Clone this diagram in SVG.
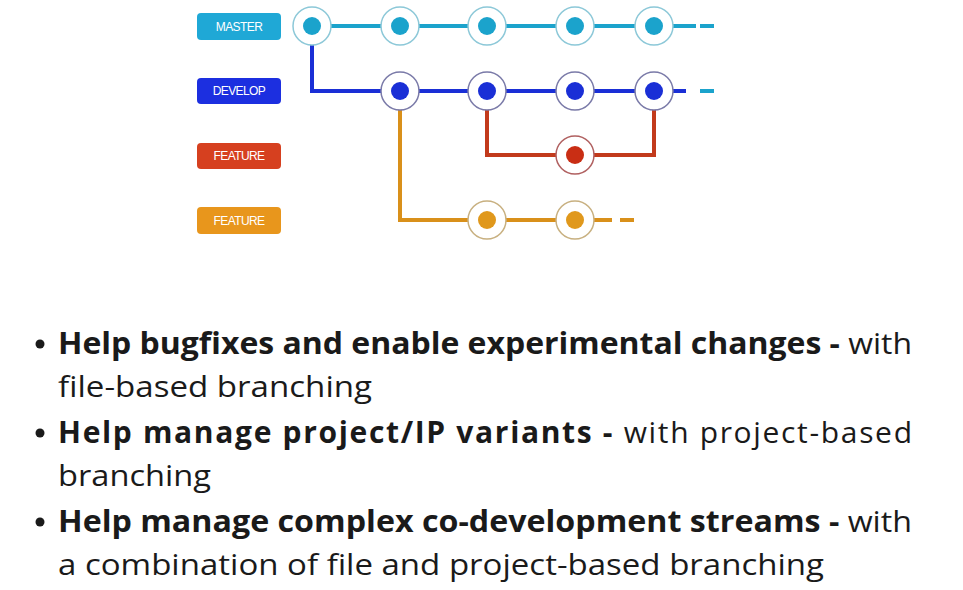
<svg xmlns="http://www.w3.org/2000/svg" width="963" height="590" viewBox="0 0 963 590">
<style>
.lbl{font-family:"Liberation Sans",Arial,sans-serif;font-size:12px;fill:#fff;text-anchor:middle;letter-spacing:-0.6px}
.ring{fill:#fff;stroke-width:1.5}
.t{font-family:"Open Sans",sans-serif;font-size:30px;fill:#1a1a1a}
.b{font-weight:bold}
.ln{fill:none;stroke-width:4}
</style>
<rect width="963" height="590" fill="#fff"/>
<g id="connectors">
<path class="ln" stroke="#1ba3cc" d="M312 26H696"/>
<path class="ln" stroke="#1ba3cc" d="M700 26h14"/>
<path class="ln" stroke="#1a2fd6" d="M312 26V91H686"/>
<path class="ln" stroke="#1ba3cc" d="M700 91h14"/>
<path class="ln" stroke="#c23a1c" d="M487 91V155H654V91"/>
<path class="ln" stroke="#d9901a" d="M400 91V220H612"/>
<path class="ln" stroke="#d9901a" d="M620 220h14"/>
</g>
<g id="label-master"><rect x="197" y="13" width="84" height="27" rx="4" fill="#1fa8d6"/><text class="lbl" x="239" y="31">MASTER</text></g>
<g id="label-develop"><rect x="197" y="78" width="84" height="26" rx="4" fill="#1c2fe0"/><text class="lbl" x="239" y="95">DEVELOP</text></g>
<g id="label-feature1"><rect x="197" y="143" width="84" height="26" rx="4" fill="#d6401f"/><text class="lbl" x="239" y="160">FEATURE</text></g>
<g id="label-feature2"><rect x="197" y="207" width="84" height="27" rx="4" fill="#e8961c"/><text class="lbl" x="239" y="225">FEATURE</text></g>
<g id="master-nodes" stroke="#8cc8d8">
<circle class="ring" cx="312" cy="26" r="19"/><circle cx="312" cy="26" r="9" fill="#1ba3cc" stroke="none"/>
<circle class="ring" cx="400" cy="26" r="19"/><circle cx="400" cy="26" r="9" fill="#1ba3cc" stroke="none"/>
<circle class="ring" cx="487" cy="26" r="19"/><circle cx="487" cy="26" r="9" fill="#1ba3cc" stroke="none"/>
<circle class="ring" cx="575" cy="26" r="19"/><circle cx="575" cy="26" r="9" fill="#1ba3cc" stroke="none"/>
<circle class="ring" cx="654" cy="26" r="19"/><circle cx="654" cy="26" r="9" fill="#1ba3cc" stroke="none"/>
</g>
<g id="develop-nodes" stroke="#7a7aa8">
<circle class="ring" cx="400" cy="91" r="19"/><circle cx="400" cy="91" r="9" fill="#1a2fd6" stroke="none"/>
<circle class="ring" cx="487" cy="91" r="19"/><circle cx="487" cy="91" r="9" fill="#1a2fd6" stroke="none"/>
<circle class="ring" cx="575" cy="91" r="19"/><circle cx="575" cy="91" r="9" fill="#1a2fd6" stroke="none"/>
<circle class="ring" cx="654" cy="91" r="19"/><circle cx="654" cy="91" r="9" fill="#1a2fd6" stroke="none"/>
</g>
<g id="feature1-node" stroke="#b06060">
<circle class="ring" cx="575" cy="155" r="19"/><circle cx="575" cy="155" r="9" fill="#c92e14" stroke="none"/>
</g>
<g id="feature2-nodes" stroke="#c8b080">
<circle class="ring" cx="487" cy="220" r="19"/><circle cx="487" cy="220" r="9" fill="#e0981c" stroke="none"/>
<circle class="ring" cx="575" cy="220" r="19"/><circle cx="575" cy="220" r="9" fill="#e0981c" stroke="none"/>
</g>
<g id="bullets">
<circle cx="40" cy="344" r="4.5" fill="#1a1a1a"/>
<circle cx="40" cy="433" r="4.5" fill="#1a1a1a"/>
<circle cx="40" cy="522" r="4.5" fill="#1a1a1a"/>
<text class="t" x="58" y="354" textLength="854" lengthAdjust="spacingAndGlyphs"><tspan class="b">Help bugfixes and enable experimental changes -</tspan> with</text>
<text class="t" x="58" y="397" textLength="314" lengthAdjust="spacingAndGlyphs">file-based branching</text>
<text class="t" x="58" y="443" textLength="854" lengthAdjust="spacing"><tspan class="b">Help manage project/IP variants -</tspan> with project-based</text>
<text class="t" x="58" y="486" textLength="153" lengthAdjust="spacingAndGlyphs">branching</text>
<text class="t" x="58" y="532" textLength="854" lengthAdjust="spacingAndGlyphs"><tspan class="b">Help manage complex co-development streams -</tspan> with</text>
<text class="t" x="58" y="575" textLength="766" lengthAdjust="spacingAndGlyphs">a combination of file and project-based branching</text>
</g>
</svg>
